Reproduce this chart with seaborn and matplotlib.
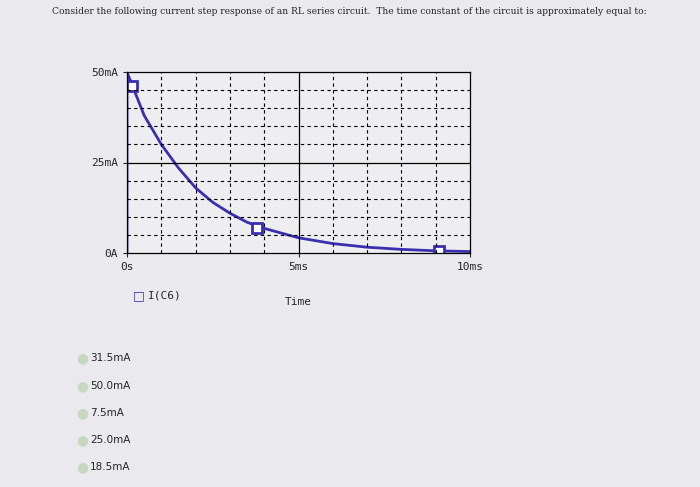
import matplotlib
matplotlib.use("Agg")
import matplotlib.pyplot as plt
import seaborn as sns
import numpy as np
import pandas as pd

time_ms = [0, 0, 0.5, 1.0, 1.5, 2.0, 2.5, 3.0, 3.5, 4.0, 5.0, 6.0, 7.0, 8.0, 9.0, 10.0]
current_ma = [0, 50, 38, 30, 23.5, 18, 14, 11, 8.5, 6.8, 4.2, 2.6, 1.6, 1.0, 0.6, 0.4]
marker_t = [0.15, 3.8, 9.1]
marker_i = [46, 7, 0.5]
options = ["31.5mA", "50.0mA", "7.5mA", "25.0mA", "18.5mA"]
question = "Consider the following current step response of an RL series circuit.  The time constant of the circuit is approximately equal to:"

sns.set_style("white")
fig = plt.figure(figsize=(7, 4.87), dpi=100)
fig.patch.set_facecolor("#e9e9ee")
fig.text(0.075, 0.985, question, fontsize=6.6, family="DejaVu Serif", va="top")

ax = fig.add_axes([127/700, 1-253/487, 343/700, 181/487])
ax.set_facecolor("#eeeef0")
df = pd.DataFrame({"t": time_ms, "i": current_ma})
sns.lineplot(data=df, x="t", y="i", sort=False, estimator=None, color="#3a2fb0", lw=2, ax=ax)
ax.plot(marker_t, marker_i, ls="none", marker="s", mfc="white", mec="#3a2fb0", ms=7, mew=2)
ax.set_xlim(0, 10); ax.set_ylim(0, 50)
for x in range(1, 10):
    if x != 5:
        ax.axvline(x, color="black", ls=(0, (3, 3)), lw=0.8)
for y in range(5, 50, 5):
    if y != 25:
        ax.axhline(y, color="black", ls=(0, (3, 3)), lw=0.8)
ax.axvline(5, color="black", lw=0.9); ax.axhline(25, color="black", lw=0.9)
ax.set_xticks([0, 5, 10], ["0s", "5ms", "10ms"], family="DejaVu Sans Mono", fontsize=8)
ax.set_yticks([0, 25, 50], ["0A", "25mA", "50mA"], family="DejaVu Sans Mono", fontsize=8)
ax.tick_params(length=3, direction="out", left=True, bottom=True)
ax.set_xlabel("Time", family="DejaVu Sans Mono", fontsize=8, labelpad=18)
ax.set_ylabel("")
for s in ax.spines.values():
    s.set_color("black"); s.set_linewidth(0.9)
fig.text(133/700, 1-296/487, "\u25a1", color="#3a2fb0", fontsize=9, va="center")
fig.text(148/700, 1-296/487, "I(C6)", family="DejaVu Sans Mono", fontsize=8, va="center")

ys = [358, 386, 413, 440, 467]
for y, o in zip(ys, options):
    fig.text(76/700, 1-y/487, "\u25cf", color="#c8d8c0", fontsize=10, va="center")
    fig.text(90/700, 1-y/487, o, fontsize=7.5, va="center")
fig.savefig("out.png", dpi=100)
